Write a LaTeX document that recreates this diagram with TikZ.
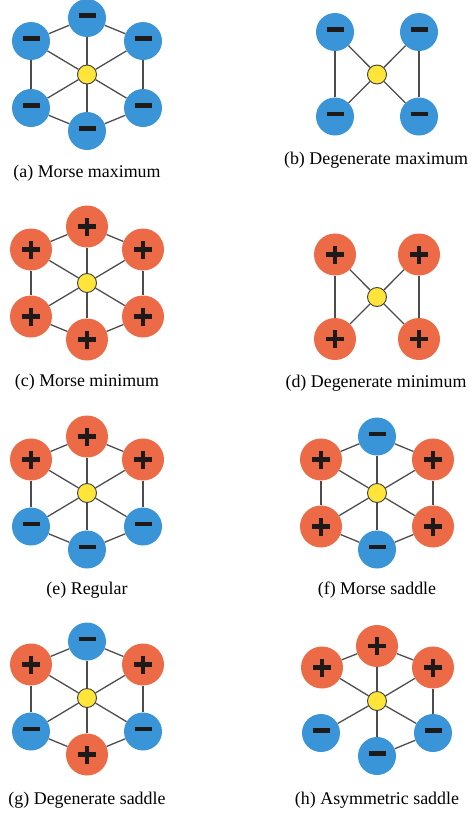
\documentclass[tikz,border=0pt]{standalone}
\usepackage{fontspec}
\setmainfont{Liberation Serif}
\usetikzlibrary{calc}
\definecolor{negblue}{HTML}{3A95D8}
\definecolor{posorange}{HTML}{EC6A45}
\definecolor{crityellow}{HTML}{FFE43A}
\definecolor{signdark}{HTML}{1E1A1A}
\definecolor{linkgray}{HTML}{4D4D4D}
\tikzset{
    signbar/.style={draw=signdark, line width=4.3pt},
    critpt/.style={
        circle,
        draw=black!75,
        line width=0.9pt,
        fill=crityellow,
        minimum size=19pt,
        inner sep=0pt
    },
    negpt/.style={
        circle,
        fill=negblue,
        minimum size=38pt,
        inner sep=0pt,
        path picture={
            \draw[signbar] ([shift={(-8.5pt,2.5pt)}]path picture bounding box.center) -- ++(17pt,0pt);
        }
    },
    pospt/.style={
        circle,
        fill=posorange,
        minimum size=42pt,
        inner sep=0pt,
        path picture={
            \draw[signbar] ([shift={(-9pt,0pt)}]path picture bounding box.center) -- ++(18pt,0pt);
            \draw[signbar] ([shift={(0pt,-9pt)}]path picture bounding box.center) -- ++(0pt,18pt);
        }
    },
    link/.style={draw=linkgray, line width=1.3pt},
    subcap/.style={font={\fontsize{17.9pt}{20pt}\selectfont}, inner sep=0pt},
}

\begin{document}
\begin{tikzpicture}[x=1pt, y=-1pt]
\useasboundingbox (0,0) rectangle (474,814);

% (a) Morse maximum
\begin{scope}[shift={(87,74.5)}]
\node[critpt] (a_c) at (0,0) {};
\node[negpt] (a_t) at (0,-56.5) {};
\node[negpt] (a_ur) at (56,-33.5) {};
\node[negpt] (a_lr) at (56,33.5) {};
\node[negpt] (a_b) at (0,56.5) {};
\node[negpt] (a_ll) at (-56,33.5) {};
\node[negpt] (a_ul) at (-56,-33.5) {};
\end{scope}
\foreach \i/\j in {t/ur,ur/lr,lr/b,b/ll,ll/ul,ul/t} \draw[link] (a_\i) -- (a_\j);
\foreach \i in {t,ur,lr,b,ll,ul} \draw[link] (a_c) -- (a_\i);
\node[subcap] (a_cap) at (87,173) {(a) Morse maximum};

% (b) Degenerate maximum
\begin{scope}[shift={(377,74.5)}]
\node[critpt] (b_c) at (0,0) {};
\node[negpt] (b_ul) at (-42,-42.5) {};
\node[negpt] (b_ur) at (42,-42.5) {};
\node[negpt] (b_ll) at (-42,42) {};
\node[negpt] (b_lr) at (42,42) {};
\end{scope}
\foreach \i/\j in {ul/ll,ur/lr} \draw[link] (b_\i) -- (b_\j);
\foreach \i in {ul,ur,ll,lr} \draw[link] (b_c) -- (b_\i);
\node[subcap] (b_cap) at (376,160) {(b) Degenerate maximum};

% (c) Morse minimum
\begin{scope}[shift={(87,283)}]
\node[critpt] (c_c) at (0,0) {};
\node[pospt] (c_t) at (0,-56.5) {};
\node[pospt] (c_ur) at (56,-33.5) {};
\node[pospt] (c_lr) at (56,33.5) {};
\node[pospt] (c_b) at (0,56.5) {};
\node[pospt] (c_ll) at (-56,33.5) {};
\node[pospt] (c_ul) at (-56,-33.5) {};
\end{scope}
\foreach \i/\j in {t/ur,ur/lr,lr/b,b/ll,ll/ul,ul/t} \draw[link] (c_\i) -- (c_\j);
\foreach \i in {t,ur,lr,b,ll,ul} \draw[link] (c_c) -- (c_\i);
\node[subcap] (c_cap) at (87,382) {(c) Morse minimum};

% (d) Degenerate minimum
\begin{scope}[shift={(377,297)}]
\node[critpt] (d_c) at (0,0) {};
\node[pospt] (d_ul) at (-42,-42.5) {};
\node[pospt] (d_ur) at (42,-42.5) {};
\node[pospt] (d_ll) at (-42,42) {};
\node[pospt] (d_lr) at (42,42) {};
\end{scope}
\foreach \i/\j in {ul/ll,ur/lr} \draw[link] (d_\i) -- (d_\j);
\foreach \i in {ul,ur,ll,lr} \draw[link] (d_c) -- (d_\i);
\node[subcap] (d_cap) at (376,383) {(d) Degenerate minimum};

% (e) Regular
\begin{scope}[shift={(87,493)}]
\node[critpt] (e_c) at (0,0) {};
\node[pospt] (e_t) at (0,-56.5) {};
\node[pospt] (e_ur) at (56,-33.5) {};
\node[negpt] (e_lr) at (56,33.5) {};
\node[negpt] (e_b) at (0,56.5) {};
\node[negpt] (e_ll) at (-56,33.5) {};
\node[pospt] (e_ul) at (-56,-33.5) {};
\end{scope}
\foreach \i/\j in {t/ur,ur/lr,lr/b,b/ll,ll/ul,ul/t} \draw[link] (e_\i) -- (e_\j);
\foreach \i in {t,ur,lr,b,ll,ul} \draw[link] (e_c) -- (e_\i);
\node[subcap] (e_cap) at (87,590) {(e) Regular};

% (f) Morse saddle
\begin{scope}[shift={(377,493)}]
\node[critpt] (f_c) at (0,0) {};
\node[negpt] (f_t) at (0,-56.5) {};
\node[pospt] (f_ur) at (56,-33.5) {};
\node[pospt] (f_lr) at (56,33.5) {};
\node[negpt] (f_b) at (0,56.5) {};
\node[pospt] (f_ll) at (-56,33.5) {};
\node[pospt] (f_ul) at (-56,-33.5) {};
\end{scope}
\foreach \i/\j in {t/ur,ur/lr,lr/b,b/ll,ll/ul,ul/t} \draw[link] (f_\i) -- (f_\j);
\foreach \i in {t,ur,lr,b,ll,ul} \draw[link] (f_c) -- (f_\i);
\node[subcap] (f_cap) at (377,590) {(f) Morse saddle};

% (g) Degenerate saddle
\begin{scope}[shift={(87,698)}]
\node[critpt] (g_c) at (0,0) {};
\node[negpt] (g_t) at (0,-56.5) {};
\node[pospt] (g_ur) at (56,-33.5) {};
\node[negpt] (g_lr) at (56,33.5) {};
\node[pospt] (g_b) at (0,56.5) {};
\node[negpt] (g_ll) at (-56,33.5) {};
\node[pospt] (g_ul) at (-56,-33.5) {};
\end{scope}
\foreach \i/\j in {t/ur,ur/lr,lr/b,b/ll,ll/ul,ul/t} \draw[link] (g_\i) -- (g_\j);
\foreach \i in {t,ur,lr,b,ll,ul} \draw[link] (g_c) -- (g_\i);
\node[subcap] (g_cap) at (87,800) {(g) Degenerate saddle};

% (h) Asymmetric saddle
\begin{scope}[shift={(377,701)}]
\node[critpt] (h_c) at (0,0) {};
\node[pospt] (h_t) at (0,-55) {};
\node[pospt] (h_ur) at (56,-33.5) {};
\node[negpt] (h_lr) at (56,32) {};
\node[negpt] (h_b) at (0,55) {};
\node[negpt] (h_ll) at (-56,32) {};
\node[pospt] (h_ul) at (-55,-33.5) {};
\end{scope}
\foreach \i/\j in {ul/t,t/ur,ur/lr,lr/b} \draw[link] (h_\i) -- (h_\j);
\foreach \i in {t,ur,lr,b,ll,ul} \draw[link] (h_c) -- (h_\i);
\node[subcap] (h_cap) at (377,800) {(h) Asymmetric saddle};
\end{tikzpicture}
\end{document}
